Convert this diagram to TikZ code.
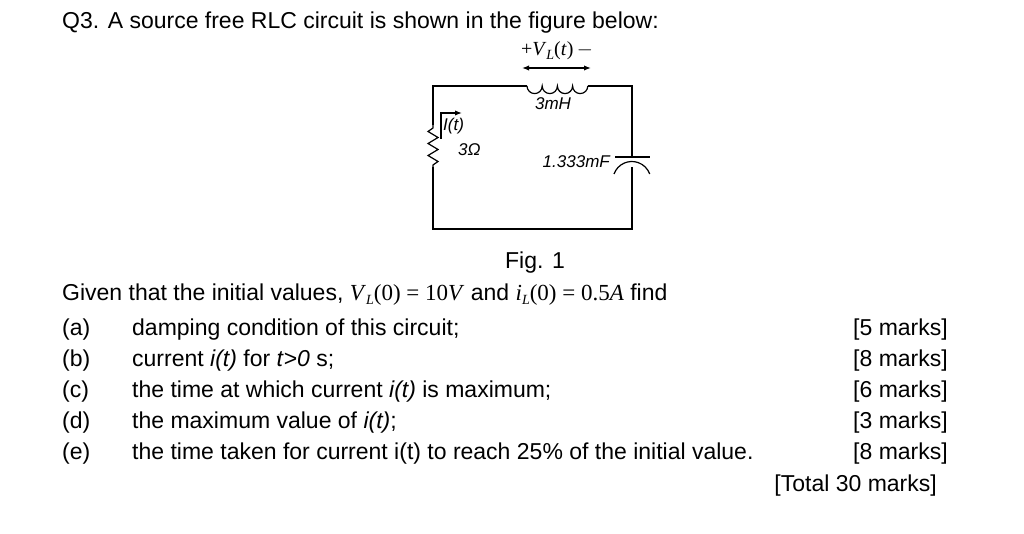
\documentclass[tikz,border=0pt]{standalone}
\usepackage{fontspec}
\setmainfont{Liberation Sans}
\newfontfamily\serif{Liberation Serif}
\usetikzlibrary{arrows.meta}
\newcommand{\VL}{{\serif\textit{V}\raisebox{-0.35ex}{\fontsize{14}{14}\selectfont\textit{L}}}}
\newcommand{\iL}{{\serif\textit{i}\raisebox{-0.35ex}{\fontsize{14}{14}\selectfont\textit{L}}}}
\begin{document}
\begin{tikzpicture}[x=1pt,y=-1pt,
  txt/.style={anchor=base west,inner sep=0pt,font=\fontsize{23}{26}\selectfont},
  mk/.style={anchor=base east,inner sep=0pt,font=\fontsize{23}{26}\selectfont},
  lbl/.style={inner sep=0pt,font=\fontsize{17}{19}\selectfont\itshape},
  wire/.style={line width=1.2pt}]
\useasboundingbox (0,0) rectangle (1024,534);
\node[txt] (q) at (62,29) {Q3. A source free RLC circuit is shown in the figure below:};
% circuit
\coordinate (tl) at (433,86); \coordinate (tr) at (632,86);
\coordinate (bl) at (433,229); \coordinate (br) at (632,229);
\coordinate (r1) at (433,125); \coordinate (r2) at (433,167);
\coordinate (l1) at (527,86); \coordinate (l2) at (588,86);
\coordinate (c1) at (632,157); \coordinate (c2) at (632,167);
\draw[wire] (r1) -- (tl) -- (l1);
\draw[wire] (l1) \foreach \i in {0,...,3} { arc[start angle=180,end angle=0,radius=7.6] };
\draw[wire] (l2) -- (tr) -- (c1);
\draw[wire] (c2) -- (br) -- (bl) -- (r2);
\draw[wire] (r1) -- ++(0,3) -- ++(-5,3.5) -- ++(10,6) -- ++(-10,6) -- ++(10,6) -- ++(-10,6) -- ++(10,6) -- ++(-5,3.5) -- (r2);
\draw[wire] (615,157) -- (650,157);
\draw[wire] (614,174) arc[start angle=200,end angle=340,radius=19];
\draw[line width=1.2pt,-{Latex[length=7pt]}] (441,139) -- (441,113) -- (462,113);
\node[lbl,anchor=west] (it) at (443,126) {I(t)};
\node[lbl,anchor=west] (ro) at (458,150) {3Ω};
\node[lbl] (lv) at (553,104) {3mH};
\node[lbl,anchor=east] (cv) at (610,162) {1.333mF};
\draw[line width=1.2pt,{Latex[length=7pt]}-{Latex[length=7pt]}] (522,68) -- (591,68);
\node[inner sep=0pt,font=\fontsize{20}{21}\selectfont\serif] (vl) at (557,51) {+\VL(\textit{t})\,$-$};
\node[txt,anchor=base] (fig) at (535,269) {Fig. 1};
\node[txt] (g) at (62,301) {Given that the initial values, \VL{\serif(0) = 10\textit{V}} and \iL{\serif(0) = 0.5\textit{A}} find};
\foreach \y/\l/\t/\m in {
 335/(a)/damping condition of this circuit;/[5 marks],
 366/(b)/current \textit{i(t)} for \textit{t}>\textit{0} s;/[8 marks],
 397/(c)/the time at which current \textit{i(t)} is maximum;/[6 marks],
 428/(d)/the maximum value of \textit{i(t)};/[3 marks],
 459/(e)/the time taken for current i(t) to reach 25\% of the initial value./[8 marks]}
{ \node[txt] at (62,\y) {\l}; \node[txt] at (132,\y) {\t}; \node[mk] at (948,\y) {\m}; }
\node[mk] (tot) at (937,491) {[Total 30 marks]};
\end{tikzpicture}
\end{document}
